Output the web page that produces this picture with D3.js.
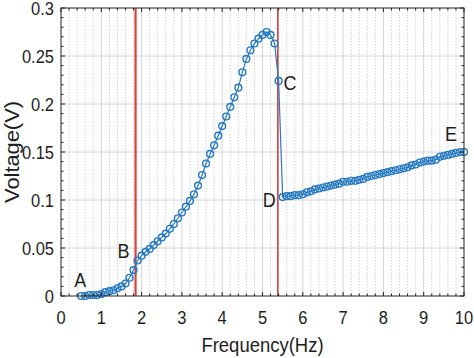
<!DOCTYPE html>
<html><head><meta charset="utf-8">
<script src="https://cdn.jsdelivr.net/npm/d3@7"></script>
<style>body{margin:0;background:#fff;} text{font-family:"Liberation Sans",Arial,sans-serif;fill:#1e1e1e;}</style>
</head><body><svg id="c" width="474" height="358"></svg>
<script>
const freq = [0.5,0.6,0.7,0.8,0.9,1.0,1.1,1.2,1.3,1.4,1.5,1.6,1.7,1.8,1.9,
2.0,2.1,2.2,2.3,2.4,2.5,2.6,2.7,2.8,2.9,3.0,3.1,3.2,3.3,3.4,3.5,3.6,3.7,3.8,3.9,
4.0,4.1,4.2,4.3,4.4,4.5,4.6,4.7,4.8,4.9,5.0,5.1,5.2,5.3,5.4,
5.5,5.6,5.7,5.8,5.9,6.0,6.1,6.2,6.3,6.4,6.5,6.6,6.7,6.8,6.9,7.0,7.1,7.2,7.3,7.4,
7.5,7.6,7.7,7.8,7.9,8.0,8.1,8.2,8.3,8.4,8.5,8.6,8.7,8.8,8.9,9.0,9.1,9.2,9.3,9.4,
9.5,9.6,9.7,9.8,9.9,10.0];
const voltage = [0.000,0.000,0.001,0.001,0.001,0.002,0.004,0.005,0.006,0.008,0.010,0.013,0.019,0.027,0.037,
0.042,0.046,0.049,0.053,0.057,0.061,0.065,0.070,0.075,0.081,0.087,0.093,0.099,0.106,0.115,0.126,0.138,0.148,0.157,0.167,
0.177,0.187,0.197,0.207,0.217,0.233,0.247,0.256,0.263,0.268,0.272,0.275,0.272,0.263,0.224,
0.103,0.104,0.104,0.105,0.105,0.106,0.108,0.109,0.111,0.112,0.113,0.114,0.115,0.116,0.117,0.119,0.119,0.120,0.120,0.121,
0.122,0.124,0.125,0.126,0.127,0.128,0.129,0.130,0.131,0.132,0.133,0.134,0.136,0.137,0.139,0.140,0.141,0.141,0.142,0.145,
0.146,0.147,0.148,0.149,0.150,0.150];
const xTicks = [0,1,2,3,4,5,6,7,8,9,10];
const yTicks = [0,0.05,0.1,0.15,0.2,0.25,0.3];
const yTickLabels = ["0","0.05","0.1","0.15","0.2","0.25","0.3"];
const markerLines = [1.85, 5.38];
const pointLabels = [
  {text:"A", f:0.5, v:0.000},
  {text:"B", f:1.9, v:0.037},
  {text:"C", f:5.4, v:0.224},
  {text:"D", f:5.5, v:0.103},
  {text:"E", f:10.0, v:0.150}
];

const svg = d3.select("#c");
const L=61, R=464, T=8, B=296;
const SY = 1.12; // vertical stretch of glyphs in the reference
const x = d3.scaleLinear().domain([0,10]).range([L,R]);
const y = d3.scaleLinear().domain([0,0.3]).range([B,T]);

// minor vertical grid
const minorX = d3.range(0,10.001,0.2).filter(v=>Math.abs(v-Math.round(v))>1e-6);
svg.append("g").selectAll("line").data(minorX).join("line")
  .attr("x1",d=>x(d)).attr("x2",d=>x(d)).attr("y1",T).attr("y2",B)
  .attr("stroke","#c8c8c8").attr("stroke-width",0.8).attr("stroke-dasharray","1.5,1.5");
// major grid
svg.append("g").selectAll("line").data(xTicks.slice(1,-1)).join("line")
  .attr("x1",d=>x(d)).attr("x2",d=>x(d)).attr("y1",T).attr("y2",B)
  .attr("stroke","#d4d4d4").attr("stroke-width",1);
svg.append("g").selectAll("line").data(yTicks.slice(1,-1)).join("line")
  .attr("x1",L).attr("x2",R).attr("y1",d=>y(d)).attr("y2",d=>y(d))
  .attr("stroke","#d4d4d4").attr("stroke-width",1);

// red lines
svg.append("g").selectAll("line").data(markerLines).join("line")
  .attr("x1",d=>x(d)).attr("x2",d=>x(d)).attr("y1",T).attr("y2",B)
  .attr("stroke","#d9413f").attr("stroke-width",(d,i)=>i===0?2.2:1.6);

// data line
const pts = freq.map((f,i)=>[f,voltage[i]]);
svg.append("path").datum(pts)
  .attr("d",d3.line().x(d=>x(d[0])).y(d=>y(d[1])))
  .attr("fill","none").attr("stroke","#2479c2").attr("stroke-width",1.2);
svg.append("g").selectAll("circle").data(pts).join("circle")
  .attr("cx",d=>x(d[0])).attr("cy",d=>y(d[1])).attr("r",3.4)
  .attr("fill","none").attr("stroke","#2479c2").attr("stroke-width",1.4);

// axes box with inward ticks
const minorYT = d3.range(0,0.3001,0.01).filter(v=>Math.abs(v*20-Math.round(v*20))>1e-6);
const ax = svg.append("g").attr("stroke","#222").attr("stroke-width",1);
ax.append("rect").attr("x",L).attr("y",T).attr("width",R-L).attr("height",B-T).attr("fill","none");
function vt(vals,len){
  vals.forEach(v=>{
    ax.append("line").attr("x1",x(v)).attr("x2",x(v)).attr("y1",B).attr("y2",B-len);
    ax.append("line").attr("x1",x(v)).attr("x2",x(v)).attr("y1",T).attr("y2",T+len);
  });
}
function ht(vals,len){
  vals.forEach(v=>{
    ax.append("line").attr("y1",y(v)).attr("y2",y(v)).attr("x1",L).attr("x2",L+len);
    ax.append("line").attr("y1",y(v)).attr("y2",y(v)).attr("x1",R).attr("x2",R-len);
  });
}
vt(xTicks,4); vt(minorX,2.5); ht(yTicks,4); ht(minorYT,2.5);

function txt(g,px,py,s,size,anchor,rot){
  return g.append("text")
    .attr("transform",`translate(${px},${py})${rot?" rotate(-90)":""} scale(${rot?SY:1},${rot?1:SY})`)
    .attr("text-anchor",anchor).attr("font-size",size).text(s);
}
// tick labels
const gx = svg.append("g");
xTicks.forEach(d=>txt(gx,x(d),324,d,16.5,"middle"));
const gy = svg.append("g");
yTicks.forEach((d,i)=>txt(gy,L-7,y(d)+6.5,yTickLabels[i],16.5,"end"));

// axis titles
txt(svg,(L+R)/2,352,"Frequency(Hz)",18.5,"middle");
txt(svg,19,(T+B)/2,"Voltage(V)",19.5,"middle",true);

// point labels
const off = {A:[-1,-9,"middle"],B:[-8,-2,"end"],C:[5,9,"start"],D:[-7,10,"end"],E:[-13,-11,"middle"]};
const gl = svg.append("g");
pointLabels.forEach(d=>txt(gl,x(d.f)+off[d.text][0],y(d.v)+off[d.text][1],d.text,18,off[d.text][2]));
</script></body></html>
